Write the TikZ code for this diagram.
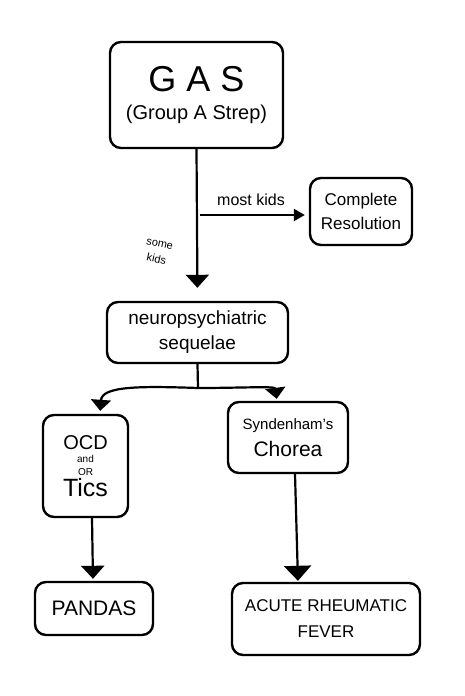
\documentclass[tikz,border=0pt]{standalone}
\usepackage{fontspec}
\setmainfont{Liberation Sans}
\usetikzlibrary{arrows.meta}
\begin{document}
\begin{tikzpicture}[x=1pt,y=-1pt,
  box/.style={draw=black, line width=2.4pt, rounded corners=11pt, inner sep=0pt, align=center},
  conn/.style={line width=2.2pt, draw=black},
  tip/.style={-{Triangle[width=23pt,length=13pt]}},
  smalltip/.style={-{Triangle[width=12pt,length=11pt]}},
  lbl/.style={inner sep=0pt, align=center}]
\useasboundingbox (0,0) rectangle (464,696);
\fill[white] (0,0) rectangle (464,696);

\node[box, minimum width=173pt, minimum height=106pt] (gas) at (196.5,95)
  {\fontsize{36}{40}\selectfont G A S\\[12pt]\fontsize{20}{22}\selectfont (Group A Strep)};
\node[box, minimum width=102pt, minimum height=67pt, font=\fontsize{17}{20}\selectfont] (res) at (361,211.5)
  {Complete\\[4pt]Resolution};
\node[box, minimum width=181pt, minimum height=61pt, font=\fontsize{19}{22}\selectfont] (neuro) at (197.5,332.5)
  {neuropsychiatric\\[3pt]sequelae};
\node[box, minimum width=85pt, minimum height=102pt] (ocd) at (85.5,466)
  {\fontsize{20}{22}\selectfont OCD\\[1pt]\fontsize{10}{12}\selectfont and\\[1pt]\fontsize{10}{12}\selectfont OR\\[2pt]\fontsize{25}{27}\selectfont Tics};
\node[box, minimum width=120pt, minimum height=71pt] (syd) at (288,437.5)
  {\fontsize{15}{17}\selectfont Syndenham's\\[8pt]\fontsize{21}{23}\selectfont Chorea};
\node[box, minimum width=118pt, minimum height=53pt, font=\fontsize{21}{24}\selectfont] (pandas) at (94,608.5)
  {PANDAS};
\node[box, minimum width=188pt, minimum height=72pt, font=\fontsize{17}{20}\selectfont] (arf) at (326,619)
  {ACUTE RHEUMATIC\\[6pt]FEVER};

% main stem
\draw[conn, tip, shorten >=13pt] (gas.south) -- (neuro.north);
\coordinate (br) at (199.5,215);
\draw[conn, smalltip, shorten >=4pt] (br) -- (res.west |- br);
\node[lbl, font=\fontsize{16}{18}\selectfont] (most) at (251,200) {most kids};
\node[lbl, font=\fontsize{11}{13}\selectfont, rotate=-12] (some) at (158,252) {some\\[3pt]kids};

% split
\coordinate (split) at (198,388);
\draw[conn] (neuro.south) -- (split);
\draw[conn, -{Triangle[width=20pt,length=11pt]}, shorten >=3pt] (split) .. controls (140,386) and (102,386) .. ([xshift=14.5pt]ocd.north);
\draw[conn, -{Triangle[width=20pt,length=11pt]}, shorten >=2pt] (split) .. controls (240,388) and (275,386) .. ([xshift=-11pt]syd.north);

% lower arrows
\draw[conn, tip, shorten >=2pt] ([xshift=6.5pt]ocd.south) -- ([xshift=-1pt]pandas.north);
\draw[conn, -{Triangle[width=27pt,length=15pt]}, shorten >=1pt] ([xshift=7pt]syd.south) -- ([xshift=-28pt]arf.north);
\end{tikzpicture}
\end{document}
